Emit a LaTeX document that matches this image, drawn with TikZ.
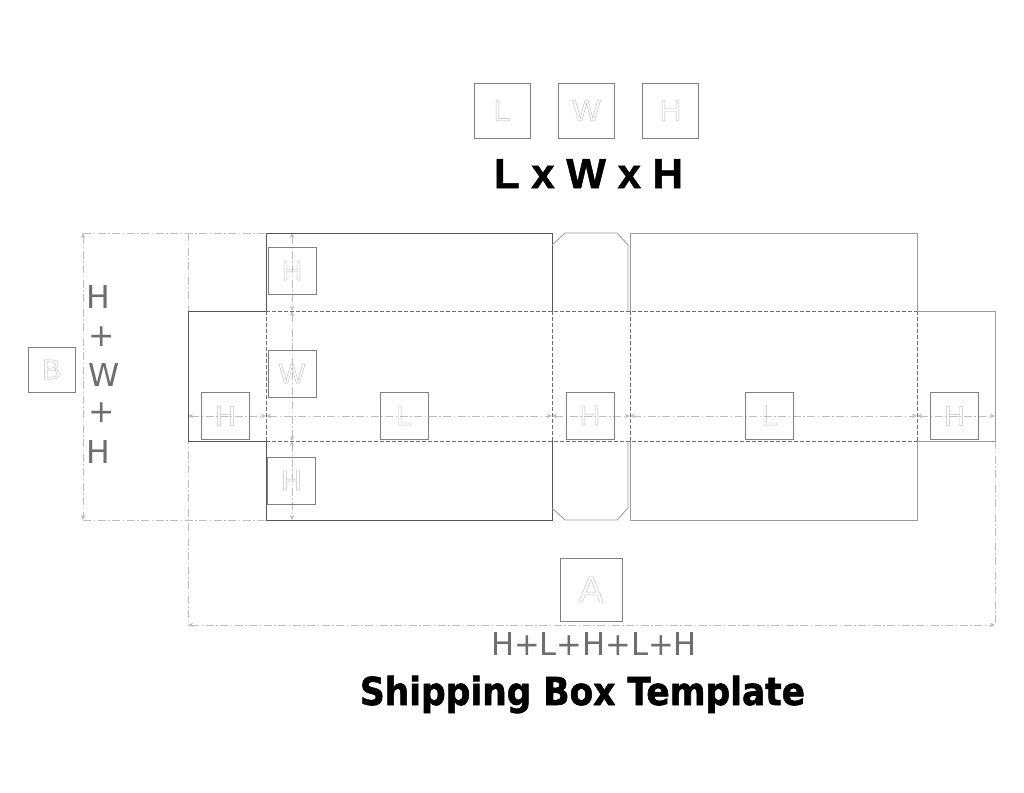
\documentclass[tikz,border=0pt]{standalone}
\usepackage{fontspec}
\usepackage{graphicx}
\setmainfont{Liberation Sans}
\newfontfamily\dejavu{DejaVu Sans}
\newfontfamily\titlefont{DejaVu Sans Bold}[FakeBold=1.6]
\newfontfamily\dimfont{Liberation Sans Bold}[FakeBold=1.2]
\newfontfamily\libsans{Liberation Sans}
\usetikzlibrary{arrows.meta}
\definecolor{cutdark}{HTML}{555555}
\definecolor{cutlight}{HTML}{9A9A9A}
\definecolor{foldc}{HTML}{6E6E6E}
\definecolor{dimc}{HTML}{BEBEBE}
\definecolor{boxline}{HTML}{808080}
\definecolor{letterc}{HTML}{BDBDBD}
\definecolor{labelc}{HTML}{6E6E6E}
\newcommand\hollowtext[1]{\special{pdf:code 1 Tr 0.45 w}#1\special{pdf:code 0 Tr}}
\tikzset{
  cutd/.style={draw=cutdark, line width=0.8pt},
  cutl/.style={draw=cutlight, line width=0.8pt},
  foldline/.style={draw=foldc, line width=0.8pt, dash pattern=on 4pt off 2pt},
  extline/.style={draw=dimc, line width=0.7pt, dash pattern=on 8pt off 2.5pt on 1.5pt off 2.5pt},
  dimline/.style={extline, {Stealth[length=5pt,width=4.5pt,inset=1.5pt]}-{Stealth[length=5pt,width=4.5pt,inset=1.5pt]}},
  lbox/.style={draw=boxline, line width=0.8pt, inner sep=0pt, text=letterc,
    minimum width=48pt, minimum height=47pt, font=\libsans\fontsize{28}{28}\selectfont},
  bigbox/.style={lbox, minimum width=56pt, minimum height=55pt, font=\libsans\fontsize{30}{30}\selectfont},
  graylabel/.style={inner sep=0pt, text=labelc, font=\dejavu\fontsize{31.5}{32}\selectfont},
}
\begin{document}
\begin{tikzpicture}[x=1pt,y=-1pt]
\useasboundingbox[fill=white] (0,0) rectangle (1024,792);

% extension lines
\draw[extline] (83,233) -- (266,233);
\draw[extline] (83,520) -- (266,520);
\draw[extline] (188,233) -- (188,625);
\draw[extline] (995,441) -- (995,625);

% dimension lines
\draw[dimline] (83,233) -- (83,520);
\draw[dimline] (188,625) -- (995,625);
\foreach \a/\b in {188/266,266/552,552/630,630/917,917/995}
  \draw[dimline] (\a,416) -- (\b,416);
\foreach \a/\b in {233/311,311/441,441/520}
  \draw[dimline] (292,\a) -- (292,\b);

% fold lines
\draw[foldline] (266,311) -- (917,311);
\draw[foldline] (266,441) -- (917,441);
\foreach \x in {266,552,630,917}
  \draw[foldline] (\x,311) -- (\x,441);

% cut lines
\draw[cutd] (266,311) -- (266,233) -- (552,233) -- (552,311);
\draw[cutd] (266,311) -- (188,311) -- (188,441) -- (266,441);
\draw[cutd] (266,441) -- (266,520) -- (552,520) -- (552,441);
\draw[cutl] (552,245) -- (565,233) -- (617,233) -- (628,245) -- (628,311);
\draw[cutl] (552,508) -- (565,520) -- (617,520) -- (628,508) -- (628,441);
\draw[cutl] (630,311) -- (630,233) -- (917,233) -- (917,311);
\draw[cutl] (630,441) -- (630,520) -- (917,520) -- (917,441);
\draw[cutl] (917,311) -- (995,311) -- (995,441) -- (917,441);

% top boxes
\node[bigbox] (tl) at (502,110.5) {\hollowtext{L}};
\node[bigbox] (tw) at (586.5,110.5) {\hollowtext{W}};
\node[bigbox] (th) at (670.5,110.5) {\hollowtext{H}};
\node[anchor=base, inner sep=0pt, font=\dimfont\fontsize{42}{44}\selectfont] (lwh) at (588.5,188) {L x W x H};

% boxes on the net
\node[lbox] (h1) at (292,270.5) {\hollowtext{H}};
\node[lbox] (w1) at (292,373.5) {\hollowtext{W}};
\node[lbox] (h2) at (291.5,480.5) {\hollowtext{H}};
\node[lbox] (h3) at (225.5,416) {\hollowtext{H}};
\node[lbox] (l1) at (404,415.5) {\hollowtext{L}};
\node[lbox] (h4) at (590,415.5) {\hollowtext{H}};
\node[lbox] (l2) at (769.5,415.5) {\hollowtext{L}};
\node[lbox] (h5) at (954.5,416) {\hollowtext{H}};
\node[lbox, minimum width=47pt, minimum height=45pt] (bb) at (51.5,369.5) {\hollowtext{B}};
\node[lbox, minimum width=62pt, minimum height=63pt, font=\libsans\fontsize{37}{37}\selectfont] (ab) at (591,589.5) {\hollowtext{A}};

% left stacked label
\node[graylabel, anchor=base west] (s1) at (86,308) {H};
\node[graylabel] (s2) at (101.5,337) {+};
\node[graylabel, anchor=base west] (s3) at (88,386) {W};
\node[graylabel] (s4) at (101.5,413) {+};
\node[graylabel, anchor=base west] (s5) at (86,463) {H};

% bottom sum label
\node[graylabel, anchor=base] (sum) at (594,655) {\resizebox{206pt}{\height}{H+L+H+L+H}};

% title
\node[anchor=base, inner sep=0pt] (title) at (582.5,705)
  {\resizebox{445pt}{\height}{\titlefont\fontsize{38.5}{40}\selectfont Shipping Box Template}};
\end{tikzpicture}
\end{document}
